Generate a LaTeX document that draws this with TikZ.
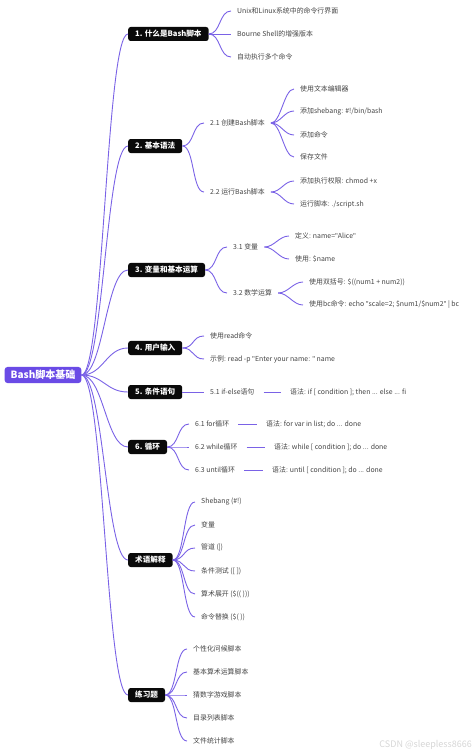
\documentclass[tikz,border=0pt]{standalone}
\usepackage{fontspec}
\setmainfont{Noto Sans CJK SC}
\newfontfamily\latinfont{Noto Sans}
\newcommand\dq{{\latinfont"}}
\usepackage{xcolor}
\usetikzlibrary{positioning,calc}
\definecolor{mmroot}{HTML}{6A4BE6}
\definecolor{mmink}{HTML}{0A0A0A}
\definecolor{mmline}{HTML}{7A62E6}
\definecolor{mmtext}{HTML}{444444}
\definecolor{mmmark}{HTML}{D6D6D6}
\tikzset{
  rootbox/.style={rectangle,rounded corners=3pt,fill=mmroot,text=white,
                  font=\fontsize{10}{12}\selectfont\bfseries,minimum height=16pt,inner xsep=6pt},
  topic/.style={rectangle,rounded corners=2.5pt,fill=mmink,text=white,anchor=west,
                font=\fontsize{7.6}{9}\selectfont\bfseries,minimum height=14pt,inner xsep=7pt},
  leaf/.style={text=mmtext,font=\fontsize{6.9}{8}\selectfont,inner xsep=6pt,inner ysep=2pt,anchor=west},
  branch/.style={draw=mmline,line width=0.9pt},
}

\begin{document}
\begin{tikzpicture}[x=1pt,y=-1pt]
  \useasboundingbox (0,0) rectangle (474,752);
  \node[rootbox] (root) at (43,375) {Bash脚本基础};
  % main topics
  \node[topic] (b1) at (128,34) {1. 什么是Bash脚本};
  \node[topic] (b2) at (128,146) {2. 基本语法};
  \node[topic] (b3) at (128,270) {3. 变量和基本运算};
  \node[topic] (b4) at (128,348) {4. 用户输入};
  \node[topic] (b5) at (128,392) {5. 条件语句};
  \node[topic] (b6) at (128,447) {6. 循环};
  \node[topic] (b7) at (128,560) {术语解释};
  \node[topic] (b8) at (128,695) {练习题};
  \foreach \n in {b1,b2,b3,b4,b5,b6,b7,b8}
    \draw[branch] (root.east) .. controls +(22,0) and +(-22,0) .. (\n.west);

  % 1
  \foreach \y/\t [count=\i] in {11/{Unix和Linux系统中的命令行界面},34/{Bourne Shell的增强版本},57/{自动执行多个命令}} {
    \node[leaf] (l1\i) at (231,\y) {\t};
    \draw[branch] (b1.east) .. controls +(12,0) and +(-12,0) .. (l1\i.west);
  }

  % 2
  \node[leaf] (s21) at (204,123) {2.1 创建Bash脚本};
  \node[leaf] (s22) at (204,192) {2.2 运行Bash脚本};
  \foreach \n in {s21,s22}
    \draw[branch] (b2.east) .. controls +(12,0) and +(-12,0) .. (\n.west);
  \foreach \y/\t [count=\i] in {89/{使用文本编辑器},111/{添加shebang: \#!/bin/bash},135/{添加命令},157/{保存文件}} {
    \node[leaf] (l21\i) at (294,\y) {\t};
    \draw[branch] (s21.east) .. controls +(10,0) and +(-10,0) .. (l21\i.west);
  }
  \foreach \y/\t [count=\i] in {181/{添加执行权限: chmod +x},204/{运行脚本: ./script.sh}} {
    \node[leaf] (l22\i) at (294,\y) {\t};
    \draw[branch] (s22.east) .. controls +(10,0) and +(-10,0) .. (l22\i.west);
  }

  % 3
  \node[leaf] (s31) at (227,247) {3.1 变量};
  \node[leaf] (s32) at (227,293) {3.2 数学运算};
  \foreach \n in {s31,s32}
    \draw[branch] (b3.east) .. controls +(12,0) and +(-12,0) .. (\n.west);
  \foreach \y/\t [count=\i] in {236/{定义: name=\dq Alice\dq},259/{使用: \$name}} {
    \node[leaf] (l31\i) at (289,\y) {\t};
    \draw[branch] (s31.east) .. controls +(10,0) and +(-10,0) .. (l31\i.west);
  }
  \foreach \y/\t [count=\i] in {282/{使用双括号: \$((num1 + num2))},305/{使用bc命令: echo \dq scale=2; \$num1/\$num2\dq{} | bc}} {
    \node[leaf] (l32\i) at (303,\y) {\t};
    \draw[branch] (s32.east) .. controls +(10,0) and +(-10,0) .. (l32\i.west);
  }

  % 4
  \foreach \y/\t [count=\i] in {336/{使用read命令},359/{示例: read -p \dq Enter your name: \dq{} name}} {
    \node[leaf] (l4\i) at (204,\y) {\t};
    \draw[branch] (b4.east) .. controls +(12,0) and +(-12,0) .. (l4\i.west);
  }

  % 5
  \node[leaf] (s51) at (204,392) {5.1 if-else语句};
  \node[leaf] (x51) at (284,392) {语法: if [ condition ]; then ... else ... fi};
  \draw[branch] (b5) -- (s51);
  \draw[branch,shorten <=3pt,shorten >=3pt] (s51) -- (x51);

  % 6
  \node[leaf] (s61) at (189,424) {6.1 for循环};
  \node[leaf] (s62) at (189,447) {6.2 while循环};
  \node[leaf] (s63) at (189,470) {6.3 until循环};
  \node[leaf] (x61) at (260,424) {语法: for var in list; do ... done};
  \node[leaf] (x62) at (268,447) {语法: while [ condition ]; do ... done};
  \node[leaf] (x63) at (266,470) {语法: until [ condition ]; do ... done};
  \foreach \i in {1,2,3} {
    \draw[branch] (b6.east) .. controls +(12,0) and +(-12,0) .. (s6\i.west);
    \draw[branch,shorten <=3pt,shorten >=3pt] (s6\i) -- (x6\i);
  }

  % terms
  \foreach \y/\t [count=\i] in {502/{Shebang (\#!)},525/{变量},548/{管道 (|)},571/{条件测试 ([ ])},594/{算术展开 (\$(( )))},617/{命令替换 (\$( ))}} {
    \node[leaf] (l7\i) at (195,\y) {\t};
    \draw[branch] (b7.east) .. controls +(12,0) and +(-12,0) .. (l7\i.west);
  }

  % exercises
  \foreach \y/\t [count=\i] in {649/{个性化问候脚本},672/{基本算术运算脚本},695/{猜数字游戏脚本},718/{目录列表脚本},741/{文件统计脚本}} {
    \node[leaf] (l8\i) at (187,\y) {\t};
    \draw[branch] (b8.east) .. controls +(12,0) and +(-12,0) .. (l8\i.west);
  }

  \node[anchor=east,text=mmmark,font=\fontsize{9}{10}\selectfont,inner sep=0pt] (wm) at (472,745) {CSDN @sleepless8666};
\end{tikzpicture}
\end{document}
